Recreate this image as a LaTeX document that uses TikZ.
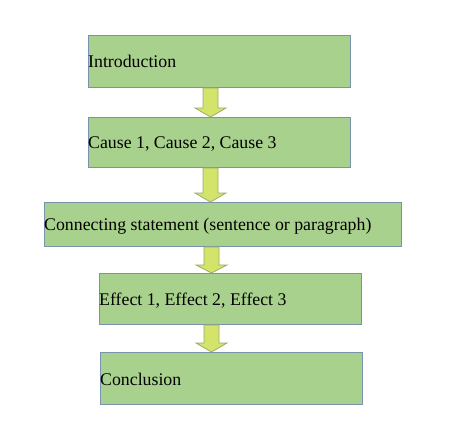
\documentclass[tikz,border=0pt]{standalone}
\usepackage{fontspec}
\setmainfont{Liberation Serif}
\usetikzlibrary{calc}
\definecolor{boxfill}{HTML}{A9D18E}
\definecolor{boxline}{HTML}{7A93AD}
\definecolor{arrfill}{HTML}{D4E46A}
\definecolor{arrline}{HTML}{9AAD6A}
\tikzset{
  stagebox/.style={draw=boxline, fill=boxfill, line width=1pt, rectangle,
    anchor=north west, inner sep=0pt},
  stagetext/.style={anchor=base west, inner sep=0pt,
    font=\fontsize{17.8}{20}\selectfont},
  blockarr/.style={draw=arrline, fill=arrfill, line width=0.8pt, line join=miter}
}
\newcommand\blkarrow[4]{% from, to, x centre, head length
  \path let \p1=(#1.south), \p2=(#2.north) in
    [blockarr] ({#3pt-7.5pt},\y1) -- ({#3pt+7.5pt},\y1) -- ({#3pt+7.5pt},{\y2+#4pt})
    -- ({#3pt+15.5pt},{\y2+#4pt}) -- (#3pt,\y2) -- ({#3pt-15.5pt},{\y2+#4pt})
    -- ({#3pt-7.5pt},{\y2+#4pt}) -- cycle;}
\begin{document}
\begin{tikzpicture}[x=1pt,y=-1pt]
\useasboundingbox (0,0) rectangle (474,421);
\node[stagebox, minimum width=262pt, minimum height=52pt] (intro) at (88,35) {};
\node[stagebox, minimum width=262pt, minimum height=50pt] (cause) at (88,117) {};
\node[stagebox, minimum width=357pt, minimum height=44pt] (conn) at (44,202) {};
\node[stagebox, minimum width=262pt, minimum height=51pt] (effect) at (99,273) {};
\node[stagebox, minimum width=262pt, minimum height=52pt] (concl) at (100,352) {};
\node[stagetext] (introt) at ($(intro.west)+(0,6)$) {Introduction};
\node[stagetext] (causet) at ($(cause.west)+(0,6)$) {Cause 1, Cause 2, Cause 3};
\node[stagetext] (connt) at ($(conn.west)+(0,6)$) {Connecting statement (sentence or paragraph)};
\node[stagetext] (effectt) at ($(effect.west)+(0,6)$) {Effect 1, Effect 2, Effect 3};
\node[stagetext] (conclt) at ($(concl.west)+(0,6.5)$) {Conclusion};
\blkarrow{intro}{cause}{210.5}{9}
\blkarrow{cause}{conn}{210.5}{9}
\blkarrow{conn}{effect}{211.5}{8}
\blkarrow{effect}{concl}{211.5}{9}
\end{tikzpicture}
\end{document}
